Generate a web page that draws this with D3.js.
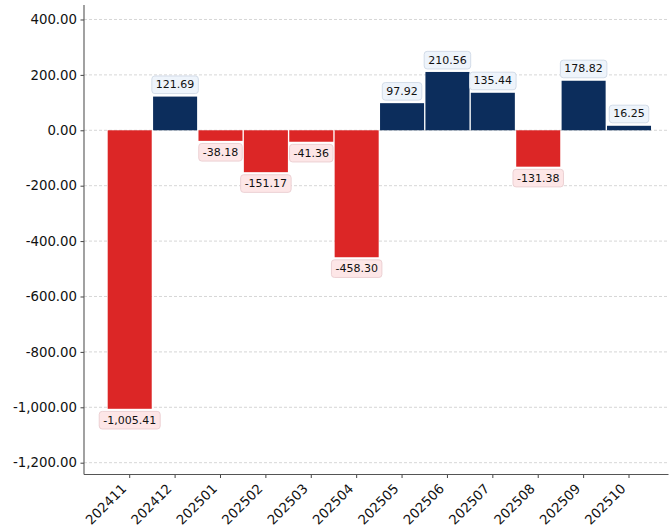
<!DOCTYPE html>
<html>
<head>
<meta charset="utf-8">
<script src="https://cdn.jsdelivr.net/npm/d3@7"></script>
<style>
  html, body { margin: 0; padding: 0; background: #fff; }
  svg { display: block; font-family: "DejaVu Sans", sans-serif; }
</style>
</head>
<body>
<svg id="chart" width="669" height="531"></svg>
<script>
// Monthly values
const months = ["202411","202412","202501","202502","202503","202504","202505","202506","202507","202508","202509","202510"];
const values = [-1005.41, 121.69, -38.18, -151.17, -41.36, -458.30, 97.92, 210.56, 135.44, -131.38, 178.82, 16.25];
const yTicks = [400, 200, 0, -200, -400, -600, -800, -1000, -1200];

const svg = d3.select("#chart");
const plot = { left: 84, right: 668.5, top: 5, bottom: 474.5 };

const loc = d3.formatLocale({ decimal: ".", thousands: ",", grouping: [3], currency: ["", ""], minus: "-" });
const fmt = loc.format(",.2f");

const x = d3.scaleLinear().domain([-1.007, 11.87]).range([plot.left, plot.right]);
const y = d3.scaleLinear().domain([-1242.6, 452.3]).range([plot.bottom, plot.top]);
const step = x(1) - x(0);
const barW = step * 0.97;

const POS = "#0c2d5c", NEG = "#dc2626";

// horizontal grid
svg.append("g").selectAll("line").data(yTicks).join("line")
  .attr("x1", plot.left).attr("x2", plot.right)
  .attr("y1", d => y(d)).attr("y2", d => y(d))
  .attr("stroke", "#cccccc").attr("stroke-width", 0.8)
  .attr("stroke-dasharray", "3,2");

// bars
svg.append("g").selectAll("rect").data(values).join("rect")
  .attr("x", (d, i) => x(i) - barW / 2)
  .attr("width", barW)
  .attr("y", d => y(Math.max(0, d)))
  .attr("height", d => Math.abs(y(d) - y(0)))
  .attr("fill", d => d >= 0 ? POS : NEG);

// value labels in rounded boxes
const lab = svg.append("g").selectAll("g").data(values).join("g");
lab.each(function(d, i) {
  const g = d3.select(this);
  const t = g.append("text")
    .attr("x", x(i))
    .attr("font-size", 11)
    .attr("fill", "#111")
    .attr("text-anchor", "middle")
    .text(fmt(d));
  const w = t.node().getComputedTextLength();
  const bh = 17.6, padX = 4;
  const boxY = d >= 0 ? y(d) - 3 - bh : y(d) + 2.6;
  t.attr("y", boxY + bh / 2).attr("dominant-baseline", "central");
  g.insert("rect", "text")
    .attr("x", x(i) - w / 2 - padX)
    .attr("y", boxY)
    .attr("width", w + 2 * padX)
    .attr("height", bh)
    .attr("rx", 3)
    .attr("fill", d >= 0 ? "#eef4fb" : "#fde6e7")
    .attr("stroke", d >= 0 ? "#d3dce8" : "#ecd0d3")
    .attr("stroke-width", 1);
});

// y axis
const yAxis = d3.axisLeft(y).tickValues(yTicks).tickSize(3.5).tickPadding(3.5).tickFormat(fmt);
const gy = svg.append("g").attr("transform", `translate(${plot.left},0)`).call(yAxis);
gy.select(".domain").remove();
gy.selectAll(".tick line").attr("stroke", "#444");
gy.selectAll(".tick text").attr("font-size", 13.3).attr("fill", "#111").attr("font-family", "DejaVu Sans");

// x axis
const gx = svg.append("g").attr("transform", `translate(0,${plot.bottom})`);
gx.selectAll("line.tick").data(months).join("line")
  .attr("x1", (d, i) => x(i)).attr("x2", (d, i) => x(i))
  .attr("y1", 0).attr("y2", 3.5)
  .attr("stroke", "#444");
gx.selectAll("text").data(months).join("text")
  .attr("transform", (d, i) => `translate(${x(i) - 2.5},${15}) rotate(-45)`)
  .attr("text-anchor", "end")
  .attr("font-size", 13.3)
  .attr("fill", "#111")
  .text(d => d);

// spines
svg.append("line").attr("x1", plot.left).attr("x2", plot.left)
  .attr("y1", plot.top).attr("y2", plot.bottom)
  .attr("stroke", "#555").attr("stroke-width", 1.1);
svg.append("line").attr("x1", plot.left).attr("x2", plot.right)
  .attr("y1", plot.bottom).attr("y2", plot.bottom)
  .attr("stroke", "#555").attr("stroke-width", 1.1);
</script>
</body>
</html>
